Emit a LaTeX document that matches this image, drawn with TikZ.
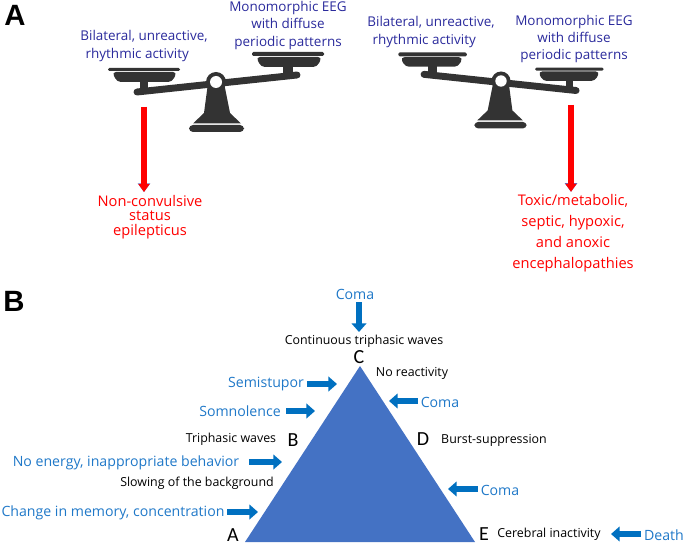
\documentclass[tikz,border=0pt]{standalone}
\usepackage{fontspec}
\setmainfont{Open Sans}
\newfontfamily\letterfont{Carlito}
\newfontfamily\panelfont{Liberation Sans}
\usetikzlibrary{arrows.meta}
\definecolor{ink}{HTML}{333333}
\definecolor{navy}{HTML}{2A2A9C}
\definecolor{sky}{HTML}{1F78C8}
\definecolor{arrowblue}{HTML}{0070C0}
\definecolor{wedge}{HTML}{4472C4}
\definecolor{alarm}{HTML}{FF0000}
\tikzset{
  panel/.style={font=\panelfont\bfseries\fontsize{22}{22}\selectfont,inner sep=0pt},
  duo/.style={text=navy,align=center,inner sep=0pt,font=\fontsize{10.1}{12.8}\selectfont},
  outcome/.style={text=alarm,align=center,inner sep=0pt},
  stage/.style={text=black,inner sep=1pt,font=\fontsize{9.3}{11}\selectfont},
  symptom/.style={text=sky,inner sep=2pt,font=\fontsize{10.6}{13}\selectfont},
  corner/.style={text=black,inner sep=0pt,font=\letterfont\fontsize{15}{15}\selectfont},
  blockarrow/.style={arrowblue,line width=4.5pt,-{Triangle[length=6.5pt,width=11pt]}},
  redarrow/.style={alarm,line width=3.8pt,shorten >=2pt,-{Triangle[length=6pt,width=8pt]},
    preaction={draw=navy!70,line width=4.4pt,-{Triangle[length=6.5pt,width=9pt]}}},
  balance/.pic={
    \fill[ink,rounded corners=1pt] (-108,-14) rectangle (-36,-11);
    \fill[ink,rounded corners=3pt] (-104,-10)--(-39,-10)--(-44,0)--(-99,0)--cycle;
    \fill[ink] (-76,-1) rectangle (-68,8);
    \fill[ink,rounded corners=1pt] (36,-30) rectangle (108,-26);
    \fill[ink,rounded corners=3pt] (40,-25)--(106,-25)--(101,-15)--(45,-15)--cycle;
    \fill[ink] (67,-16) rectangle (77,-6);
    \draw[ink,line width=5.2pt,line cap=round] (-79,10)--(81,-7);
    \fill[ink] (0,0) circle (10);
    \fill[ink] (-8,1)--(8,1)--(14,31)--(25,41.5)--(-23,41.5)--(-12,31)--cycle;
    \fill[ink,rounded corners=3pt] (-27,43) rectangle (28,50);
    \fill[white] (0,0) circle (6);
  }
}
\begin{document}
\begin{tikzpicture}[x=.75pt,y=-.75pt,>=Latex]
  \useasboundingbox (0,0) rectangle (685,545);
  \node[panel] (panela) at (15,15) {A};
  \node[panel] (panelb) at (14,301) {B};

  % the two scales
  \pic at (216,82) {balance};
  \pic[xscale=-.95,yscale=.95] at (501,81) {balance};

  \node[duo] (bilatl) at (144,46) {Bilateral, unreactive,\\rhythmic activity\hspace*{1em}};
  \node[duo] (monol) at (288,25.5) {Monomorphic EEG\\with diffuse\\periodic patterns};
  \node[duo] (bilatr) at (431,32) {Bilateral, unreactive,\\rhythmic activity\hspace*{1em}};
  \node[duo] (monor) at (574,39) {Monomorphic EEG\\with diffuse\\periodic patterns};

  \node[outcome,font=\fontsize{11}{11}\selectfont] (ncse) at (150,217)
    {Non-convulsive\\status\\epilepticus};
  \node[outcome,font=\fontsize{11}{15.7}\selectfont] (toxic) at (573,233.5)
    {Toxic/metabolic,\\septic, hypoxic,\\and anoxic\\encephalopathies};
  \coordinate (ncsetop) at (144,107);
  \coordinate (toxictop) at (571,105);
  \draw[redarrow] (ncsetop)--(ncsetop |- ncse.north);
  \draw[redarrow] (toxictop)--(toxictop |- toxic.north);

  % triangle and its corners
  \fill[wedge] (245,542)--(360,366)--(475,542)--cycle;
  \node[corner] (ca) at (233,535) {A};
  \node[corner] (cb) at (293,440) {B};
  \node[corner] (cc) at (359,357) {C};
  \node[corner] (cd) at (423,439) {D};
  \node[corner] (ce) at (484,534) {E};

  \node[stage] (contin) at (364,341) {Continuous triphasic waves};
  \node[stage] (noreact) at (412,373) {No reactivity};
  \node[stage] (triph) at (231,439) {Triphasic waves};
  \node[stage] (burst) at (494,440) {Burst-suppression};
  \node[stage] (slow) at (197,483) {Slowing of the background};
  \node[stage] (inact) at (549,534) {Cerebral inactivity};

  \node[symptom] (comatop) at (355,294) {Coma};
  \node[symptom] (semi) at (266,384) {Semistupor};
  \node[symptom] (somn) at (240,411) {Somnolence};
  \node[symptom] (energy) at (126,463) {No energy, inappropriate behavior};
  \node[symptom] (memory) at (113,513) {Change in memory, concentration};
  \node[symptom] (comaup) at (440,402) {Coma};
  \node[symptom] (comalow) at (500,490) {Coma};
  \node[symptom] (death) at (664,535) {Death};

  \coordinate (comatopend) at (359,332);
  \coordinate (semiend) at (337,384);
  \coordinate (somnend) at (315,411);
  \coordinate (energyend) at (282,462);
  \coordinate (memoryend) at (258,512);
  \coordinate (comaupend) at (389,401);
  \coordinate (comalowend) at (448,489);
  \coordinate (deathend) at (611,534);

  \draw[blockarrow] (comatopend |- comatop.south)--(comatopend);
  \draw[blockarrow] (semi.east |- semiend)--(semiend);
  \draw[blockarrow,shorten <=2pt] (somn.east |- somnend)--(somnend);
  \draw[blockarrow,shorten <=5pt] (energy.east |- energyend)--(energyend);
  \draw[blockarrow] (memory.east |- memoryend)--(memoryend);
  \draw[blockarrow] (comaup.west |- comaupend)--(comaupend);
  \draw[blockarrow] (comalow.west |- comalowend)--(comalowend);
  \draw[blockarrow] (death.west |- deathend)--(deathend);
\end{tikzpicture}
\end{document}
